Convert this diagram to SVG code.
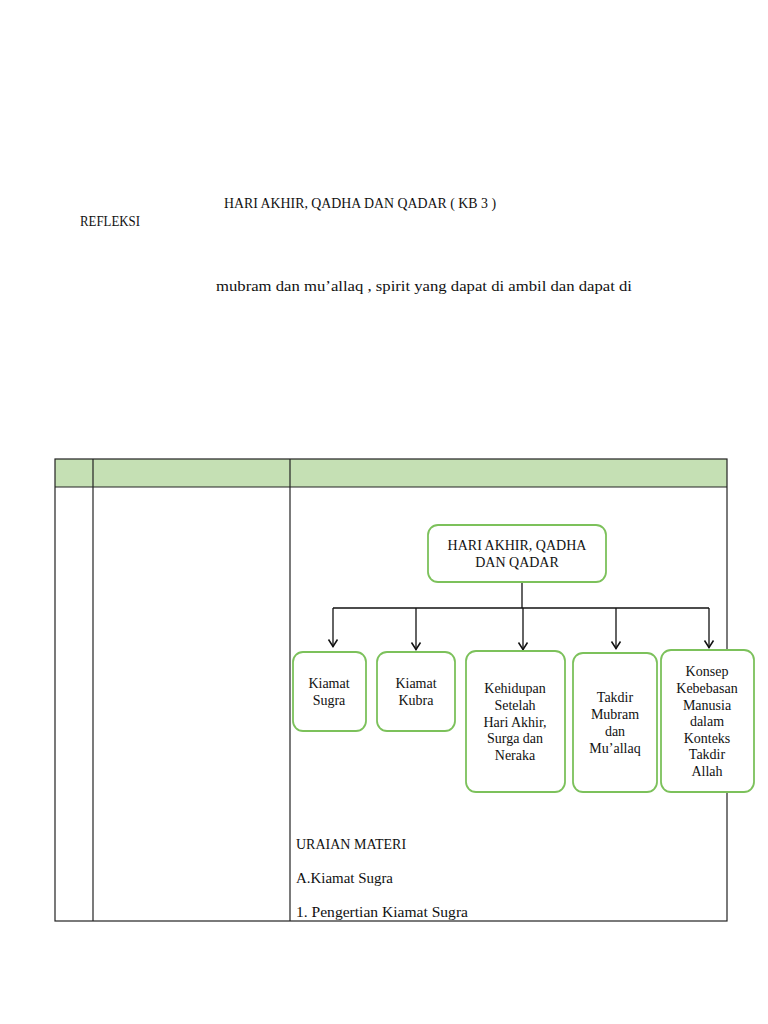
<svg xmlns="http://www.w3.org/2000/svg" width="768" height="1024" viewBox="0 0 768 1024">
<defs>
<style>
text{font-family:"Liberation Serif","DejaVu Serif",serif;fill:#111;font-size:14px}
.c{text-anchor:middle}
.box{fill:#fff;stroke:#7cc15b;stroke-width:1.8}
.tbl{fill:none;stroke:#222;stroke-width:1.2}
.conn{fill:none;stroke:#111;stroke-width:1.3}
</style>
<marker id="arr" viewBox="0 0 12 12" refX="6" refY="11" markerWidth="12" markerHeight="12" markerUnits="userSpaceOnUse" orient="0">
<path d="M1.5,3.5 L6,10.5 L10.5,3.5" fill="none" stroke="#111" stroke-width="1.5"/>
</marker>
</defs>
<rect width="768" height="1024" fill="#fff"/>
<text x="224" y="208" font-size="14" textLength="272" lengthAdjust="spacingAndGlyphs">HARI AKHIR, QADHA DAN QADAR ( KB 3 )</text>
<text x="80" y="226" font-size="14" textLength="60" lengthAdjust="spacingAndGlyphs">REFLEKSI</text>
<text x="216" y="291" font-size="15.5" textLength="416" lengthAdjust="spacingAndGlyphs">mubram dan mu’allaq , spirit yang dapat di ambil dan dapat di</text>
<g id="table">
<rect x="55" y="459" width="672" height="28" fill="#c5e0b4" stroke="none"/>
<rect x="55" y="459" width="672" height="462" class="tbl"/>
<line x1="55" y1="487" x2="727" y2="487" class="tbl"/>
<line x1="93" y1="459" x2="93" y2="921" class="tbl"/>
<line x1="290" y1="459" x2="290" y2="921" class="tbl"/>
</g>
<g id="connectors">
<line x1="522" y1="582" x2="522" y2="608" class="conn"/>
<line x1="333" y1="608" x2="709" y2="608" class="conn"/>
<line x1="333" y1="608" x2="333" y2="647" class="conn" marker-end="url(#arr)"/>
<line x1="416" y1="608" x2="416" y2="650" class="conn" marker-end="url(#arr)"/>
<line x1="523" y1="608" x2="523" y2="650" class="conn" marker-end="url(#arr)"/>
<line x1="616" y1="608" x2="616" y2="649" class="conn" marker-end="url(#arr)"/>
<line x1="709" y1="608" x2="709" y2="648" class="conn" marker-end="url(#arr)"/>
</g>
<g id="root">
<rect x="428" y="525" width="178" height="57" rx="10" class="box"/>
<text class="c" x="517" y="550">HARI AKHIR, QADHA</text>
<text class="c" x="517" y="567">DAN QADAR</text>
</g>
<g id="n1">
<rect x="293" y="652" width="73" height="79" rx="10" class="box"/>
<text class="c" x="329" y="688">Kiamat</text>
<text class="c" x="329" y="705">Sugra</text>
</g>
<g id="n2">
<rect x="377" y="652" width="78" height="79" rx="10" class="box"/>
<text class="c" x="416" y="688">Kiamat</text>
<text class="c" x="416" y="705">Kubra</text>
</g>
<g id="n3">
<rect x="466" y="651" width="99" height="141" rx="10" class="box"/>
<text class="c" x="515" y="693">Kehidupan</text>
<text class="c" x="515" y="710">Setelah</text>
<text class="c" x="515" y="727">Hari Akhir,</text>
<text class="c" x="515" y="743">Surga dan</text>
<text class="c" x="515" y="760">Neraka</text>
</g>
<g id="n4">
<rect x="573" y="653" width="84" height="139" rx="10" class="box"/>
<text class="c" x="615" y="702">Takdir</text>
<text class="c" x="615" y="719">Mubram</text>
<text class="c" x="615" y="736">dan</text>
<text class="c" x="615" y="753">Mu’allaq</text>
</g>
<g id="n5">
<rect x="661" y="650" width="93" height="142" rx="10" class="box"/>
<text class="c" x="707" y="676">Konsep</text>
<text class="c" x="707" y="693">Kebebasan</text>
<text class="c" x="707" y="710">Manusia</text>
<text class="c" x="707" y="726">dalam</text>
<text class="c" x="707" y="743">Konteks</text>
<text class="c" x="707" y="759">Takdir</text>
<text class="c" x="707" y="776">Allah</text>
</g>
<text x="296" y="849" font-size="15">URAIAN MATERI</text>
<text x="296" y="883" font-size="15" textLength="97" lengthAdjust="spacingAndGlyphs">A.Kiamat Sugra</text>
<text x="296" y="917" font-size="15" textLength="172" lengthAdjust="spacingAndGlyphs">1. Pengertian Kiamat Sugra</text>
</svg>
